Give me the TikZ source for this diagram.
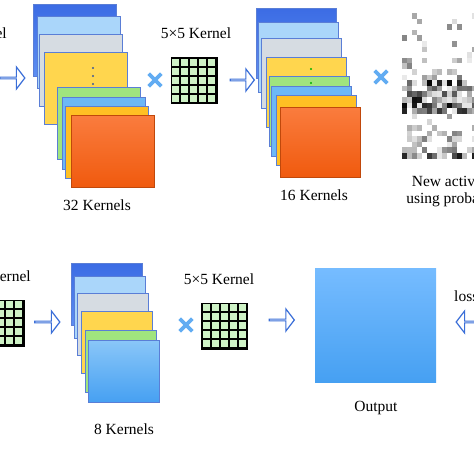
\documentclass[tikz,border=0pt]{standalone}
\usepackage{fontspec}
\setmainfont{Liberation Serif}
\usetikzlibrary{positioning}
\usetikzlibrary{calc}
\usetikzlibrary{shapes.misc}
\usetikzlibrary{shapes.arrows}
\definecolor{edgeblue}{RGB}{90,126,214}
\definecolor{arrowblue}{RGB}{58,110,216}
\definecolor{crossblue}{RGB}{98,172,242}
\definecolor{cellgreen}{RGB}{206,242,198}
\definecolor{dkblueT}{RGB}{60,108,228}
\definecolor{dkblueB}{RGB}{92,142,242}
\definecolor{ltblue}{RGB}{170,214,250}
\definecolor{graylay}{RGB}{214,220,226}
\definecolor{yellay}{RGB}{255,214,78}
\definecolor{greenlay}{RGB}{160,228,126}
\definecolor{bluelay}{RGB}{108,184,246}
\definecolor{amberlay}{RGB}{255,192,36}
\definecolor{orangeT}{RGB}{250,124,62}
\definecolor{orangeB}{RGB}{240,90,14}
\definecolor{outT}{RGB}{118,188,255}
\definecolor{outB}{RGB}{70,160,242}

\begin{document}
\begin{tikzpicture}[x=1pt, y=-1pt,
	lbl/.style={font=\fontsize{15.5}{17}\selectfont, inner sep=0pt},
	layer/.style={draw=edgeblue, line width=0.7pt, anchor=north west, inner sep=0pt},
	layerA/.style={layer, minimum width=83pt, minimum height=72pt},
	layerB/.style={layer, minimum width=80pt, minimum height=70pt},
	layerC/.style={layer, minimum width=71pt, minimum height=62pt},
	dkbluelay/.style={top color=dkblueT, bottom color=dkblueB},
	ltbluelay/.style={fill=ltblue},
	graylaystyle/.style={fill=graylay},
	yellaystyle/.style={fill=yellay},
	greenlaystyle/.style={fill=greenlay},
	bluelaystyle/.style={fill=bluelay},
	amberlaystyle/.style={fill=amberlay},
	orangelay/.style={top color=orangeT, bottom color=orangeB, draw=orangeB!80!black},
	lastbluelay/.style={top color=bluelay!80!white, bottom color=outB},
	kgrid/.style={fill=black, minimum size=47pt, inner sep=0pt},
	hollowarrow/.style={single arrow, draw=arrowblue, fill=white, line width=1.2pt, inner sep=0pt,
		minimum width=22pt, minimum height=25pt, single arrow head extend=7pt, single arrow tip angle=105},
	crossmark/.style={cross out, draw=crossblue, line width=3.6pt, minimum size=9pt, inner sep=0pt},
	dotmark/.style={circle, fill=#1, inner sep=0pt, minimum size=2.2pt}
]
	\useasboundingbox (0,0) rectangle (474,474);
	\clip (0,0) rectangle (474,474);

	\node [lbl, anchor=east] (kerTopL) at (7,33) {5×5 Kernel};
	\node [hollowarrow] (arrTopL) at (12,78) {};

	\foreach \lx/\ly/\ls/\ln in {33/4/dkbluelay/a, 37/16/ltbluelay/b, 39/34/graylaystyle/c, 44/52/yellaystyle/d,
		57/87/greenlaystyle/e, 62/97/bluelaystyle/f, 65/106/amberlaystyle/g, 71/115/orangelay/h}
		\node [layerA, \ls] (k32\ln) at (\lx,\ly) {};
	\foreach \dy in {68,76,84}
		\node [dotmark=edgeblue!70!black] at (93,\dy) {};
	\node [lbl] (n32) at (97,205) {32 Kernels};

	\node [crossmark] (crossT1) at (155,80) {};
	\node [lbl] (kerTop) at (196,33) {5×5 Kernel};
	\node [kgrid] (gridT) at (194,80.5) {};
	\node [hollowarrow, minimum height=24pt] (arrTop) at (242,80) {};

	\foreach \lx/\ly/\ls/\ln in {256/8/dkbluelay/a, 258/22/ltbluelay/b, 261/38/graylaystyle/c, 266/57/yellaystyle/d,
		269/76/greenlaystyle/e, 271/86/bluelaystyle/f, 276/95/amberlaystyle/g, 280/107/orangelay/h}
		\node [layerB, \ls] (k16\ln) at (\lx,\ly) {};
	\foreach \dy in {69,83}
		\node [dotmark=green!70!black] at (311,\dy) {};
	\node [lbl] (n16) at (314,195) {16 Kernels};

	\node [crossmark] (crossT2) at (381,77) {};

	\pgfmathsetseed{11}
	\foreach \r in {0,...,25}{
		\foreach \c in {0,...,14}{
			\pgfmathsetmacro{\dens}{ifthenelse(and(\r>11,\r<18),0.8,ifthenelse(\r==25,0.85,ifthenelse(and(\r>19,\r<25),0.4,ifthenelse(and(\r>6,\r<9),0.35,0.14))))}
			\pgfmathsetmacro{\dmax}{ifthenelse(\dens>0.5,90,45)}
			\pgfmathsetmacro{\shd}{ifthenelse(rnd<\dens,8+\dmax*rnd,0)}
			\fill [black!\shd] (402+\c*5,13+\r*5.6) rectangle ++(5,5.6);
		}
	}
	\node [lbl, align=center] (actmap) at (459,192) {New activation\\using probability};

	\node [lbl, anchor=east] (kerBotL) at (31,276) {5×5 Kernel};
	\node [kgrid] (gridBL) at (1,323) {};
	\node [hollowarrow] (arrBot1) at (47,322) {};

	\foreach \lx/\ly/\ls/\ln in {71/263/dkbluelay/a, 74/276/ltbluelay/b, 77/293/graylaystyle/c, 81/311/yellaystyle/d,
		85/330/greenlaystyle/e, 88/340/lastbluelay/f}
		\node [layerC, \ls] (k8\ln) at (\lx,\ly) {};
	\node [lbl] (n8) at (124,429) {8 Kernels};

	\node [crossmark] (crossB) at (186,325) {};
	\node [lbl] (kerBot) at (219,279) {5×5 Kernel};
	\node [kgrid] (gridB) at (224.5,326) {};
	\node [hollowarrow] (arrBot2) at (281.5,320) {};

	\foreach \g in {gridT, gridBL, gridB}
		\foreach \i in {0,...,4}
			\foreach \j in {0,...,4}
				\fill [cellgreen] ($(\g.north west)+(2+9*\i,2+9*\j)$) rectangle ++(7,7);

	\node [anchor=north west, minimum width=121pt, minimum height=114pt, inner sep=0pt,
		top color=outT, bottom color=outB] (outbox) at (315,268) {};
	\node [lbl] (outlbl) at (376,408) {Output};

	\node [lbl, anchor=west] (loss) at (454,296) {loss};
	\node [hollowarrow, shape border rotate=180] (arrLoss) at (469,322) {};
\end{tikzpicture}
\end{document}
